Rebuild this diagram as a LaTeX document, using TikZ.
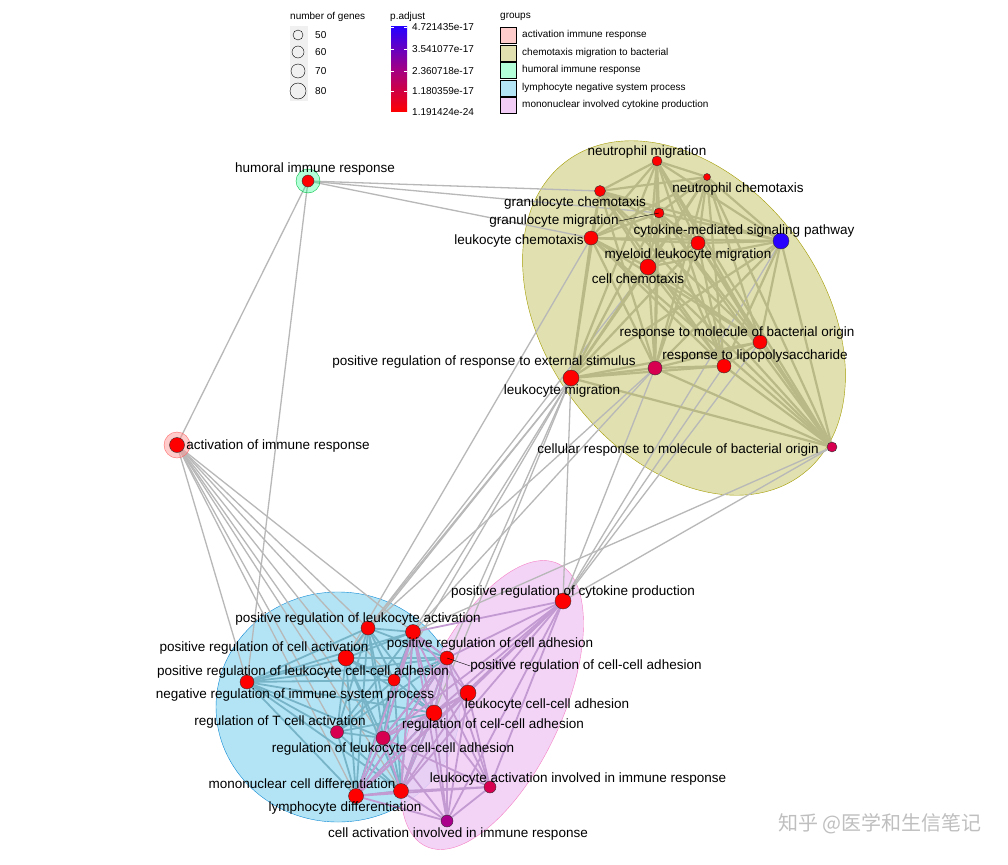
\documentclass[tikz,border=0pt]{standalone}
\usepackage{fontspec}
\setmainfont{Liberation Sans}
\newfontfamily\cjk{Noto Sans CJK SC}
\begin{document}
\begin{tikzpicture}[x=1pt,y=-1pt,font=\fontsize{13.5}{15}\selectfont,
  gn/.style={circle,draw=black!80,line width=0.4pt,inner sep=0pt,minimum size=#1},
  lab/.style={inner sep=0pt},
  gedge/.style={draw=black!28,line width=1.3pt},
  small/.style={font=\fontsize{10}{12}\selectfont,inner sep=0pt}]
\definecolor{cR}{RGB}{255,0,0}
\definecolor{cC}{RGB}{215,0,80}
\definecolor{cM}{RGB}{170,0,140}
\definecolor{cB}{RGB}{40,0,255}
\definecolor{olv}{RGB}{224,224,176}
\definecolor{olvE}{RGB}{185,185,135}
\definecolor{skyB}{RGB}{178,228,245}
\definecolor{tealE}{RGB}{120,180,200}
\definecolor{pinkB}{RGB}{242,205,246}
\definecolor{pinkE}{RGB}{195,155,210}
\useasboundingbox (0,0) rectangle (1008,864);
\fill[white] (0,0) rectangle (1008,864);
% ellipses
\draw[fill=olv,draw=olive!80!yellow] (684,318) ellipse[x radius=196,y radius=138,rotate=-53];
\draw[fill=skyB,draw=cyan!70!blue] (338,707) ellipse[x radius=122,y radius=115];
\draw[fill=pinkB,fill opacity=0.85,draw=magenta!50] (492,705) ellipse[x radius=156,y radius=70,rotate=-115];
% nodes coordinates
\coordinate (N1) at (657,161); \coordinate (N2) at (707,177);
\coordinate (N3) at (600,191); \coordinate (N4) at (659,213);
\coordinate (N5) at (591,238); \coordinate (N6) at (781,241);
\coordinate (N7) at (698,243); \coordinate (N8) at (648,267);
\coordinate (N9) at (760,342); \coordinate (N10) at (724,366);
\coordinate (N11) at (655,368); \coordinate (N12) at (571,378);
\coordinate (N13) at (832,447);
\coordinate (H) at (308,181); \coordinate (A) at (177,445);
\coordinate (P1) at (563,601); \coordinate (P2) at (368,628);
\coordinate (P3) at (413,632); \coordinate (P4) at (346,658);
\coordinate (P5) at (447,658); \coordinate (P6) at (394,680);
\coordinate (P7) at (247,682); \coordinate (P8) at (468,693);
\coordinate (P9) at (434,713); \coordinate (P10) at (337,732);
\coordinate (P11) at (383,738); \coordinate (P12) at (401,791);
\coordinate (P13) at (356,796); \coordinate (P14) at (490,787);
\coordinate (P15) at (447,821);
% gray edges
\foreach \a/\b in {H/N3,H/N4,H/N5,H/A,H/P7,A/P2,A/P4,A/P6,A/P7,A/P10,A/P13,A/P12,A/P3,A/P11,
  N12/P2,N12/P3,N12/P4,N12/P6,N11/P1,N11/P3,N13/P1,N9/P1,N10/P1,N6/P1,N12/P1,N5/P4,N8/P2,N12/P5,N12/P9,N11/P2,N13/P3}
  \draw[gedge] (\a) -- (\b);
% cluster edges
\foreach \a [count=\i] in {N1,N2,N3,N4,N5,N6,N7,N8,N9,N10,N11,N12,N13}{
  \foreach \b [count=\j] in {N1,N2,N3,N4,N5,N6,N7,N8,N9,N10,N11,N12,N13}{
    \ifnum\j>\i \draw[olvE,line width=2.2pt] (\a) -- (\b); \fi }}
\foreach \a [count=\i] in {P2,P4,P6,P7,P10,P11,P12,P13,P9,P3,P5}{
  \foreach \b [count=\j] in {P2,P4,P6,P7,P10,P11,P12,P13,P9,P3,P5}{
    \ifnum\j>\i \draw[tealE,line width=1.8pt] (\a) -- (\b); \fi }}
\foreach \a [count=\i] in {P1,P3,P5,P8,P9,P14,P15,P12,P13,P11}{
  \foreach \b [count=\j] in {P1,P3,P5,P8,P9,P14,P15,P12,P13,P11}{
    \ifnum\j>\i \draw[pinkE,line width=1.8pt] (\a) -- (\b); \fi }}
% halos
\fill[green!50!cyan,opacity=0.3] (H) circle (12);
\draw[green!50!teal] (H) circle (12);
\fill[red!40,opacity=0.5] (A) circle (13);
\draw[red!60] (A) circle (13);
% gene nodes
\node[gn=10pt,fill=cR] at (N1) {}; \node[gn=7pt,fill=cR] at (N2) {};
\node[gn=11pt,fill=cR] at (N3) {}; \node[gn=10pt,fill=cR] at (N4) {};
\node[gn=14pt,fill=cR] at (N5) {}; \node[gn=16pt,fill=cB] at (N6) {};
\node[gn=14pt,fill=cR] at (N7) {}; \node[gn=16pt,fill=cR] at (N8) {};
\node[gn=14pt,fill=cR] at (N9) {}; \node[gn=14pt,fill=cR] at (N10) {};
\node[gn=14pt,fill=cC] at (N11) {}; \node[gn=16pt,fill=cR] at (N12) {};
\node[gn=10pt,fill=cC] at (N13) {};
\node[gn=12pt,fill=cR] at (H) {}; \node[gn=15pt,fill=cR] at (A) {};
\node[gn=16pt,fill=cR] at (P1) {}; \node[gn=14pt,fill=cR] at (P2) {};
\node[gn=15pt,fill=cR] at (P3) {}; \node[gn=16pt,fill=cR] at (P4) {};
\node[gn=14pt,fill=cR] at (P5) {}; \node[gn=12pt,fill=cR] at (P6) {};
\node[gn=14pt,fill=cR] at (P7) {}; \node[gn=16pt,fill=cR] at (P8) {};
\node[gn=16pt,fill=cR] at (P9) {}; \node[gn=13pt,fill=cC] at (P10) {};
\node[gn=14pt,fill=cC] at (P11) {}; \node[gn=15pt,fill=cR] at (P12) {};
\node[gn=15pt,fill=cR] at (P13) {}; \node[gn=12pt,fill=cC] at (P14) {};
\node[gn=12pt,fill=cM] at (P15) {};
% labels
\node[lab] at (647,152) {neutrophil migration};
\node[lab] at (738,189) {neutrophil chemotaxis};
\node[lab] at (575,203) {granulocyte chemotaxis};
\node[lab] (lg) at (554,221) {granulocyte migration};
\draw[black] (lg.east) -- (N4);
\node[lab] at (519,241) {leukocyte chemotaxis};
\node[lab] at (744,231) {cytokine-mediated signaling pathway};
\node[lab] at (688,255) {myeloid leukocyte migration};
\node[lab] at (638,279) {cell chemotaxis};
\node[lab] at (737,333) {response to molecule of bacterial origin};
\node[lab] at (755,356) {response to lipopolysaccharide};
\node[lab] at (484,362) {positive regulation of response to external stimulus};
\node[lab] at (562,391) {leukocyte migration};
\node[lab] at (678,450) {cellular response to molecule of bacterial origin};
\node[lab] at (315,169) {humoral immune response};
\node[lab] at (278,446) {activation of immune response};
\node[lab] at (573,592) {positive regulation of cytokine production};
\node[lab] at (358,619) {positive regulation of leukocyte activation};
\node[lab] at (490,644) {positive regulation of cell adhesion};
\node[lab] at (264,648) {positive regulation of cell activation};
\node[lab] (lcc) at (586,666) {positive regulation of cell-cell adhesion};
\draw[black] (lcc.west) -- (P5);
\node[lab] at (303,672) {positive regulation of leukocyte cell-cell adhesion};
\node[lab] at (295,695) {negative regulation of immune system process};
\node[lab] at (547,705) {leukocyte cell-cell adhesion};
\node[lab] at (493,725) {regulation of cell-cell adhesion};
\node[lab] at (280,722) {regulation of T cell activation};
\node[lab] at (393,749) {regulation of leukocyte cell-cell adhesion};
\node[lab] at (302,784) {mononuclear cell differentiation};
\node[lab] at (345,808) {lymphocyte differentiation};
\node[lab] at (578,779) {leukocyte activation involved in immune response};
\node[lab] at (458,834) {cell activation involved in immune response};
% legend: sizes
\node[small,anchor=west] at (290,17) {number of genes};
\fill[black!6] (290,26) rectangle (308,101);
\foreach \r/\y/\t in {5/35/50,6/52/60,7/71/70,8/91/80}{
  \draw[black] (298,\y) circle (\r);
  \node[small,anchor=west] at (315,\y) {\t};}
% colourbar
\node[small,anchor=west] at (390,17) {p.adjust};
\shade[top color=cB,bottom color=cR,middle color=cC!70!cB] (391,27) rectangle (407,112);
\foreach \y/\t in {27/4.721435e-17,49/3.541077e-17,71/2.360718e-17,91/1.180359e-17,112/1.191424e-24}{
  \draw[white] (391,\y) -- (394,\y) (404,\y) -- (407,\y);
  \node[small,anchor=west] at (412,\y) {\t};}
% groups
\node[small,anchor=west] at (500,17) {groups};
\foreach \c/\y/\t in {red!20/35/activation immune response,olv/53/chemotaxis migration to bacterial,
  green!50!cyan!30/70/humoral immune response,skyB/88/lymphocyte negative system process,pinkB/105/mononuclear involved cytokine production}{
  \draw[fill=\c,draw=black] (500,\y-8) rectangle (516,\y+8);
  \node[small,anchor=west] at (522,\y) {\t};}
% watermark
\node[font=\cjk\fontsize{20}{22}\selectfont,text=black!25,anchor=east] at (985,824) {知乎 @医学和生信笔记};
\end{tikzpicture}
\end{document}
